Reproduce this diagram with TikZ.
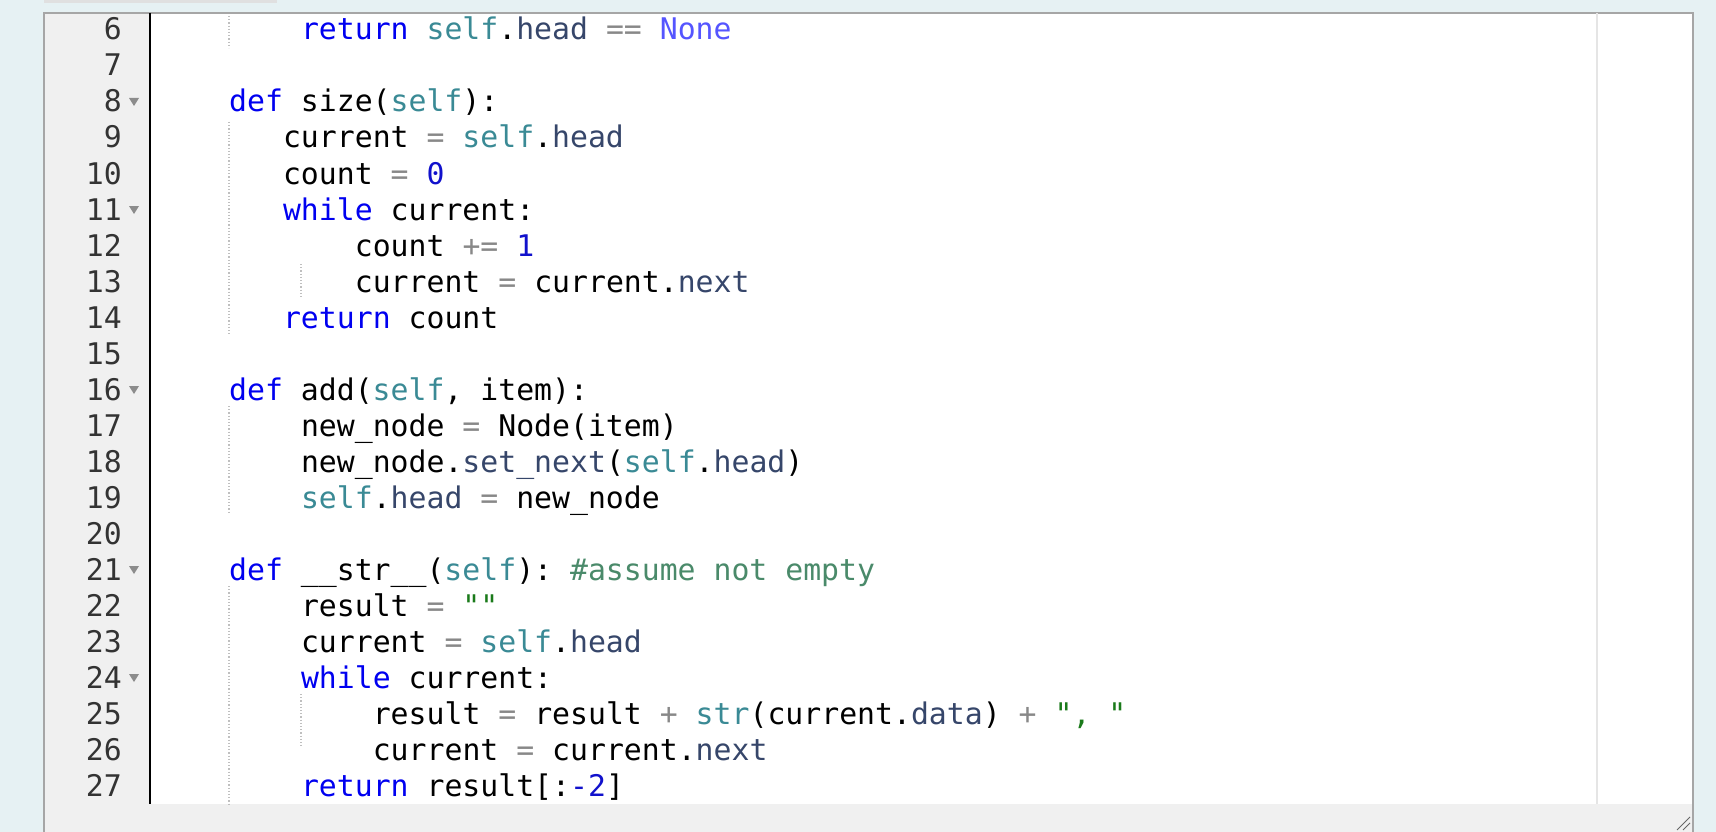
\documentclass[tikz,border=0pt]{standalone}
\usepackage{fontspec}
\usetikzlibrary{calc}
\setmonofont{DejaVu Sans Mono}
\definecolor{bgc}{HTML}{E6F1F3}
\definecolor{kw}{HTML}{0000F0}
\definecolor{slf}{HTML}{3A8A95}
\definecolor{attr}{HTML}{36466A}
\definecolor{nonec}{HTML}{5555FF}
\definecolor{num}{HTML}{1111CC}
\definecolor{op}{HTML}{888888}
\definecolor{strc}{HTML}{1A7A1A}
\definecolor{cmt}{HTML}{4A8A6A}
\definecolor{lnc}{HTML}{333333}
\newcommand{\K}[1]{\textcolor{kw}{#1}}
\newcommand{\Sf}{\textcolor{slf}{self}}
\newcommand{\A}[1]{\textcolor{attr}{#1}}
\newcommand{\Op}[1]{\textcolor{op}{#1}}
\newcommand{\Nm}[1]{\textcolor{num}{#1}}
\newcommand{\St}[1]{\textcolor{strc}{#1}}
\begin{document}
\begin{tikzpicture}[x=1pt,y=-1pt,
  code/.style={anchor=base west,inner sep=0pt,font=\ttfamily\fontsize{29.8}{30}\selectfont},
  lnum/.style={anchor=base east,inner sep=0pt,text=lnc,font=\ttfamily\fontsize{29.8}{30}\selectfont},
  guide/.style={draw=black!25,dotted,line width=1.2pt}]
\useasboundingbox (0,0) rectangle (1716,832);
\fill[bgc] (0,0) rectangle (1716,832);
\fill[black!12] (44,0) rectangle (277,3);
\fill[white] (44,13) rectangle (1693,804);
\fill[black!6] (44,13) rectangle (150,804);
\fill[black!6] (44,804) rectangle (1693,832);
\draw[black!35,line width=1.5pt] (44,832) -- (44,13) -- (1693,13) -- (1693,832);
\draw[line width=1.5pt] (150,13) -- (150,804);
\draw[black!10,line width=1.5pt] (1597,13) -- (1597,804);
\draw[black!60,line width=1pt] (1677,830) -- (1690,817) (1683,830) -- (1690,823);
% indent guides
\draw[guide] (229,16) -- (229,48);
\draw[guide] (229,122) -- (229,334);
\draw[guide] (301,264) -- (301,298);
\draw[guide] (229,406) -- (229,512);
\draw[guide] (229,586) -- (229,804);
\draw[guide] (301,694) -- (301,746);
% line numbers
\foreach \n [count=\i from 0] in {6,...,27}
  \node[lnum] (ln\n) at (122,40+36.0*\i) {\n};
\foreach \n in {8,11,16,21,24}
  \fill[black!45] ($(ln\n.base east)+(7,-14)$) -- ++(10,0) -- ++(-5,8) -- cycle;
\newcommand{\cl}[3]{\node[code] at (229+17.95*#2,40+36.0*#1) {#3};}
\cl{0}{4}{\K{return} \Sf.\A{head} \Op{==} \textcolor{nonec}{None}}
\cl{2}{0}{\K{def} size(\Sf):}
\cl{3}{3}{current \Op{=} \Sf.\A{head}}
\cl{4}{3}{count \Op{=} \Nm{0}}
\cl{5}{3}{\K{while} current:}
\cl{6}{7}{count \Op{+=} \Nm{1}}
\cl{7}{7}{current \Op{=} current.\A{next}}
\cl{8}{3}{\K{return} count}
\cl{10}{0}{\K{def} add(\Sf, item):}
\cl{11}{4}{new\_node \Op{=} Node(item)}
\cl{12}{4}{new\_node.\A{set\_next}(\Sf.\A{head})}
\cl{13}{4}{\Sf.\A{head} \Op{=} new\_node}
\cl{15}{0}{\K{def} \_\_str\_\_(\Sf): \textcolor{cmt}{\#assume not empty}}
\cl{16}{4}{result \Op{=} \St{""}}
\cl{17}{4}{current \Op{=} \Sf.\A{head}}
\cl{18}{4}{\K{while} current:}
\cl{19}{8}{result \Op{=} result \Op{+} \textcolor{slf}{str}(current.\A{data}) \Op{+} \St{", "}}
\cl{20}{8}{current \Op{=} current.\A{next}}
\cl{21}{4}{\K{return} result[:\Nm{-2}]}
\end{tikzpicture}
\end{document}
